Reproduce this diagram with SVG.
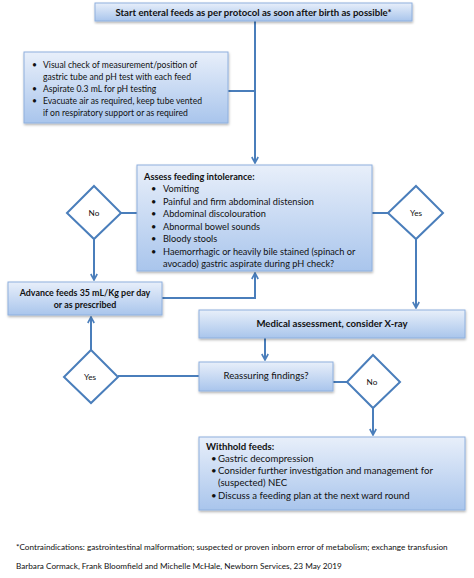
<svg xmlns="http://www.w3.org/2000/svg" width="474" height="578" viewBox="0 0 474 578">
<defs>
<linearGradient id="g" x1="0" y1="0" x2="0" y2="1">
<stop offset="0" stop-color="#e8effa"/>
<stop offset="1" stop-color="#a9c5ec"/>
</linearGradient>
<filter id="sh" x="-5%" y="-10%" width="110%" height="130%">
<feDropShadow dx="0.5" dy="1.5" stdDeviation="1" flood-color="#000" flood-opacity="0.3"/>
</filter>
<marker id="ar" viewBox="0 0 10 10" refX="8.5" refY="5" markerWidth="4" markerHeight="4" orient="auto" markerUnits="strokeWidth">
<path d="M1,1 L8.5,5 L1,9" fill="none" stroke="#4a7ebb" stroke-width="2"/>
</marker>
</defs>
<style>
.box{fill:url(#g);stroke:#8fb0de;stroke-width:1;filter:url(#sh)}
.dia{fill:#fff;stroke:#4a7ebb;stroke-width:2}
.c{fill:none;stroke:#4a7ebb;stroke-width:2}
.ca{fill:none;stroke:#4a7ebb;stroke-width:2;marker-end:url(#ar)}
text{font-family:Lato,"Open Sans","Liberation Sans",sans-serif;font-size:9.6px;fill:#111}
.b{font-weight:bold}
.m{text-anchor:middle}
.f{font-size:8.2px}
.s1{font-size:8.6px}
.s2{font-size:9.2px}
.s3{font-size:8.9px}
</style>
<rect width="474" height="578" fill="#fff"/>
<g id="connectors">
<path class="ca" d="M255,21 V163"/>
<path class="c" d="M228,91 H255"/>
<path class="c" d="M137,213 H121"/>
<path class="ca" d="M94,239 V280"/>
<path class="c" d="M372,213 H388"/>
<path class="ca" d="M416,239 V308"/>
<path class="ca" d="M162,298 H255 V273"/>
<path class="ca" d="M265,338 V360"/>
<path class="c" d="M199,376 H118"/>
<path class="ca" d="M91,350 V317"/>
<path class="c" d="M333,382 H347"/>
<path class="ca" d="M373,408 V435"/>
</g>
<g id="start">
<rect class="box" x="95" y="3" width="317" height="18"/>
<text class="b m" x="253.5" y="15.5">Start enteral feeds as per protocol as soon after birth as possible*</text>
</g>
<g id="checks" class="s1">
<rect class="box" x="24" y="52" width="204" height="71"/>
<text class="s1" x="32" y="68">•</text><text class="s1" x="43" y="68">Visual check of measurement/position of</text>
<text class="s1" x="43" y="80">gastric tube and pH test with each feed</text>
<text class="s1" x="32" y="92">•</text><text class="s1" x="43" y="92">Aspirate 0.3 mL for pH testing</text>
<text class="s1" x="32" y="104">•</text><text class="s1" x="43" y="104">Evacuate air as required, keep tube vented</text>
<text class="s1" x="43" y="116">if on respiratory support or as required</text>
</g>
<g id="assess">
<rect class="box" x="137" y="165" width="235" height="106"/>
<text class="b s2" x="144" y="180">Assess feeding intolerance:</text>
<text class="s2" x="151" y="192">•</text><text class="s2" x="163" y="192">Vomiting</text>
<text class="s2" x="151" y="204.5">•</text><text class="s2" x="163" y="204.5">Painful and firm abdominal distension</text>
<text class="s2" x="151" y="217">•</text><text class="s2" x="163" y="217">Abdominal discolouration</text>
<text class="s2" x="151" y="229.5">•</text><text class="s2" x="163" y="229.5">Abnormal bowel sounds</text>
<text class="s2" x="151" y="242">•</text><text class="s2" x="163" y="242">Bloody stools</text>
<text class="s2" x="151" y="254.5">•</text><text class="s2" x="163" y="254.5">Haemorrhagic or heavily bile stained (spinach or</text>
<text class="s2" x="163" y="267">avocado) gastric aspirate during pH check?</text>
</g>
<g id="no1">
<path class="dia" d="M94,186 L121,213 L94,239 L67,213 Z"/>
<text class="m f" x="94" y="216">No</text>
</g>
<g id="yes1">
<path class="dia" d="M416,186 L443,213 L416,239 L388,213 Z"/>
<text class="m f" x="416" y="216">Yes</text>
</g>
<g id="advance">
<rect class="box" x="8" y="282" width="154" height="33"/>
<text class="b m s3" x="85" y="296">Advance feeds 35 mL/Kg per day</text>
<text class="b m s3" x="85" y="308">or as prescribed</text>
</g>
<g id="medical">
<rect class="box" x="199" y="310" width="266" height="28"/>
<text class="b m" x="332" y="327">Medical assessment, consider X-ray</text>
</g>
<g id="reassuring">
<rect class="box" x="199" y="362" width="134" height="29"/>
<text class="m" x="266" y="379">Reassuring findings?</text>
</g>
<g id="yes2">
<path class="dia" d="M91,350 L118,377 L91,403 L64,377 Z"/>
<text class="m f" x="90" y="380">Yes</text>
</g>
<g id="no2">
<path class="dia" d="M373,355 L400,382 L373,408 L347,382 Z"/>
<text class="m f" x="372" y="385">No</text>
</g>
<g id="withhold">
<rect class="box" x="199" y="437" width="266" height="73"/>
<text class="b" x="206" y="450">Withhold feeds:</text>
<text x="211" y="462">•</text><text x="218" y="462">Gastric decompression</text>
<text x="211" y="474">•</text><text x="218" y="474">Consider further investigation and management for</text>
<text x="218" y="486">(suspected) NEC</text>
<text x="211" y="499">•</text><text x="218" y="499">Discuss a feeding  plan at the next ward round</text>
</g>
<g id="footer">
<text class="f" x="16" y="550">*Contraindications: gastrointestinal malformation; suspected or proven inborn error of metabolism; exchange transfusion</text>
<text class="f" x="16" y="569">Barbara Cormack, Frank Bloomfield and Michelle McHale, Newborn Services, 23 May 2019</text>
</g>
</svg>
